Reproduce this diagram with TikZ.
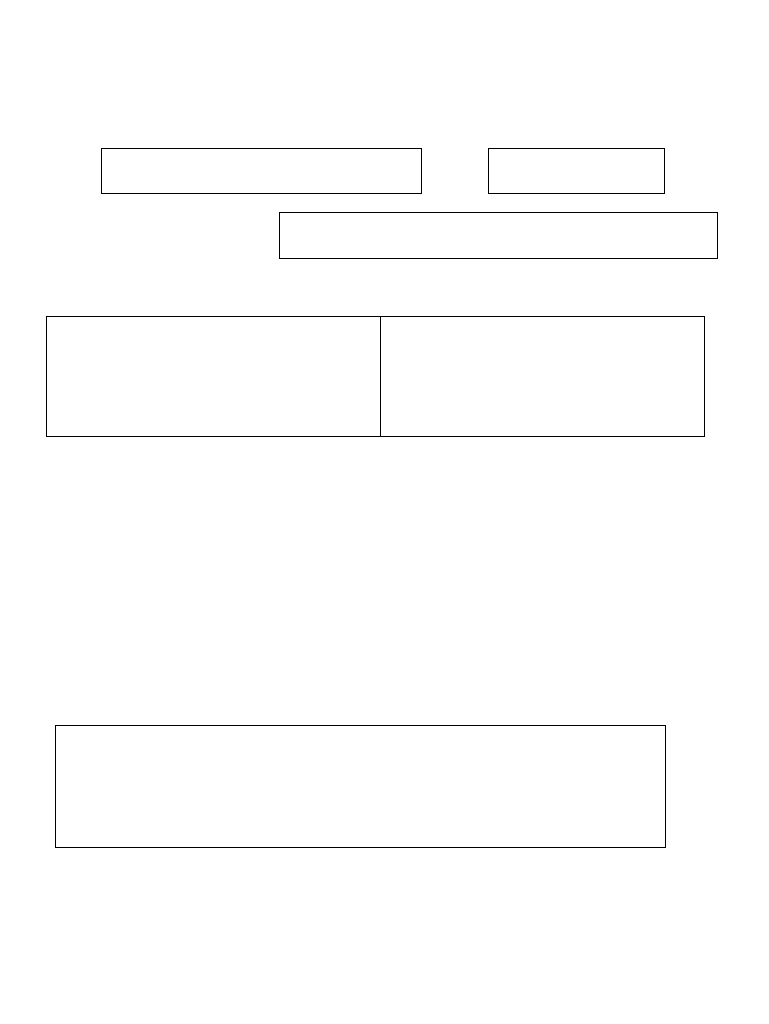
\documentclass[tikz,border=0pt]{standalone}
\usetikzlibrary{positioning}

\begin{document}
\begin{tikzpicture}[x=0.01in, y=-0.01in]
      \useasboundingbox (0,0) rectangle (768,1024);
      \begin{scope}[every node/.style={rectangle,draw,line width=0.7pt,inner sep=0pt,anchor=north west}]
        \node (title) [minimum width=3.2in, minimum height=0.45in] at (101,148) {};
        \node (tag) [minimum width=1.76in, minimum height=0.45in] at (488,148) {};
        \node (sub) [minimum width=4.38in, minimum height=0.46in] at (279,212) {};
        \node (left) [minimum width=3.34in, minimum height=1.2in] at (46,316) {};
        \node (right) [minimum width=3.24in, minimum height=1.2in] at (380,316) {};
        \node (foot) [minimum width=6.1in, minimum height=1.22in] at (55,725) {};
      \end{scope}
    \end{tikzpicture}
\end{document}
